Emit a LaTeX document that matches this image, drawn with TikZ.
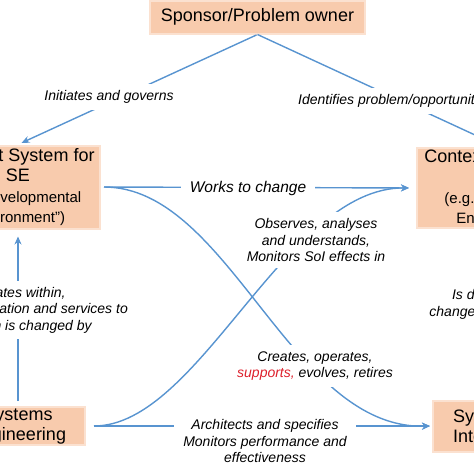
\documentclass[tikz,border=0pt]{standalone}
\usepackage{fontspec}
\setmainfont{Liberation Sans}
\usetikzlibrary{arrows.meta}
\definecolor{lineblue}{RGB}{88,148,208}
\definecolor{boxfill}{RGB}{248,203,173}
\definecolor{boxedge}{RGB}{251,225,208}
\definecolor{supred}{RGB}{222,32,44}
\begin{document}
\begin{tikzpicture}[x=1pt,y=-1pt,
  box/.style={fill=boxfill, draw=boxedge, line width=2pt, inner sep=0pt, align=center, font=\fontsize{18}{20.5}\selectfont},
  conn/.style={draw=lineblue, line width=1.4pt, -{Stealth[length=8pt,width=7pt]}},
  lab/.style={fill=white, inner xsep=9pt, inner ysep=6pt, align=center, font=\fontsize{14}{16.5}\selectfont\itshape},
]
\useasboundingbox (0,0) rectangle (474,474);
\clip (0,0) rectangle (474,474);
% boxes
\node[box, minimum width=215pt, minimum height=33pt] (top) at (257.5,17) {Sponsor/Problem owner};
\node[box, minimum width=164pt, minimum height=83pt] (left) at (18,187) {Context System for\\ SE\\ {\fontsize{15}{19}\selectfont (e.g. “Developmental\kern14pt}\\ {\fontsize{15}{19}\selectfont Environment”)}};
\node[box, minimum width=168pt, minimum height=80pt] (ctx) at (501,188) {Context System for\\ SoI\\ {\fontsize{15}{19}\selectfont (e.g. Operational}\\ {\fontsize{15}{19}\selectfont Environment)}};
\node[box, minimum width=134pt, minimum height=38pt] (se) at (18,426) {Systems\\ Engineering};
\node[box, anchor=west, minimum height=51pt, text width=90pt, inner xsep=20pt, align=left] (soi) at (432,426) {System of\\ Interest};
% connectors
\draw[conn, shorten <=1pt, shorten >=4pt] (top.south) -- (left.north);
\draw[conn, shorten >=3pt] (top.south) -- (ctx.north);
\draw[conn, shorten <=3pt, shorten >=7pt] (left.east) -- (ctx.west);
\draw[conn, shorten <=3pt, shorten >=2pt] (left.east) .. controls (230,187) and (290,430) .. (soi.west);
\draw[conn, shorten <=8pt, shorten >=7pt] (se.east) .. controls (200,426) and (285,187) .. (ctx.west);
\draw[conn, shorten <=8pt, shorten >=2pt] (se.east) -- (soi.west);
\draw[conn, shorten <=5pt, shorten >=7pt] (se.north) -- (left.south);
\draw[conn, shorten <=3pt, shorten >=5pt] (soi.north -| ctx.south) -- (ctx.south);
% labels
\node[lab] (lInit) at (109,97) {Initiates and governs};
\node[lab] (lIdent) at (390,101) {Identifies problem/opportunity};
\node[lab, font=\fontsize{15.5}{18}\selectfont\itshape] (lWorks) at (248,188) {Works to change};
\node[lab] (lObs) at (316,240) {Observes, analyses\\ and understands,\\ Monitors SoI effects in};
\node[lab] (lCre) at (315,366) {Creates, operates,\\ \textcolor{supred}{supports,} evolves, retires};
\node[lab] (lArch) at (265,441) {Architects and specifies\\ Monitors performance and\\ effectiveness};
\node[lab] (lOper) at (15,310) {Operates within,\\ Provides information and services to\\ and which is changed by};
\node[lab] (lDepl) at (503,304.5) {Is deployed into,\\ changes, is changed by};
\end{tikzpicture}
\end{document}
